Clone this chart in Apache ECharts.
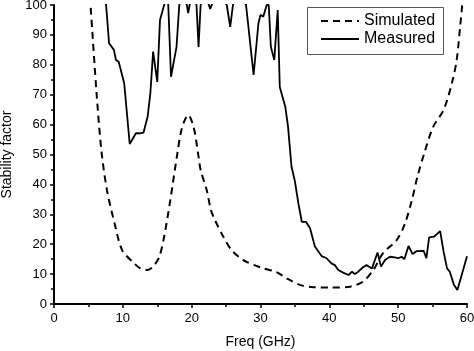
<!DOCTYPE html>
<html>
<head>
<meta charset="utf-8">
<script src="https://cdn.jsdelivr.net/npm/echarts@6/dist/echarts.min.js"></script>
<style>
  html, body { margin: 0; padding: 0; background: #fff; }
  #chart { width: 474px; height: 351px; }
</style>
</head>
<body>
<div id="chart"></div>
<script>
// simulated stability factor (dashed)
var simFreq = [4.8, 5.3, 6.2, 6.9, 7.7, 8.8, 9.9, 11.6, 12.5, 13.6, 14.5, 15.3, 16.0, 16.9, 17.9, 18.6, 19.5, 20.3, 21.0, 21.3,
  22.2, 22.8, 23.4, 24.6, 25.8, 27.5, 29.9, 32.4, 33.8, 35.7, 37.7, 40.1, 43.0, 44.9, 46.4, 47.8, 49.8, 51.0, 52.0,
  52.8, 53.8, 55.1, 56.6, 57.8, 58.5, 59.0, 59.3, 59.5];
var simK = [115, 100, 70, 51, 38, 27, 18, 13.7, 12, 11.4, 12.8, 15.8, 22.5, 34.8, 50, 59, 63.2, 59, 49.3, 44.8,
  38, 31.4, 28, 22.5, 18, 14.7, 12.3, 10.6, 8.6, 6.4, 5.6, 5.5, 5.8, 7.5, 11.4, 17, 21.4, 27, 34.8,
  42.6, 50.5, 59.3, 64.9, 73.8, 81.6, 92.7, 100, 108];

// measured stability factor (solid)
var measFreq = [7.4, 8.0, 8.7, 9.0, 9.4, 10.2, 11.0, 11.9, 12.5, 13.0, 13.6, 14.0, 14.4, 15.0, 15.4, 16.0, 16.3, 16.6,
  17.0, 17.8, 18.2, 18.8, 19.3, 19.5, 19.7, 20.3, 20.7, 21.0, 21.3, 21.9, 22.5, 22.7, 22.9, 23.8, 25.1, 25.6, 26.0,
  27.0, 27.9, 29.0, 29.7, 30.0, 30.4, 30.9, 31.2, 31.5, 32.0, 32.5, 32.8, 33.6, 34.0, 34.5, 35.0, 35.5, 36.0, 36.6,
  37.2, 37.9, 38.9, 39.6, 40.3, 40.8, 41.3, 42.0, 42.8, 43.3, 43.7, 44.2, 44.9, 45.4, 46.2, 47.0, 47.5, 48.1, 48.8,
  49.5, 50.0, 50.5, 50.9, 51.5, 52.1, 52.7, 53.7, 54.1, 54.5, 55.2, 56.1, 56.6, 57.1, 57.5, 58.1, 58.6, 59.5, 60.0];
var measK = [105, 87.2, 85, 81.6, 81, 73.8, 53.5, 57.1, 57.1, 57.3, 62.6, 70.5, 84.4, 74.3, 95, 100, 104, 100,
  76, 86, 100, 104, 100, 97.3, 100, 104, 100, 86, 100, 104, 100, 98.7, 100, 104, 100, 92.7, 100,
  104, 100, 76.6, 93.9, 96.7, 96.1, 100, 100, 86.1, 81.6, 98.3, 72.6, 66, 59.3, 46, 41, 33.7, 27.5, 27.5,
  25.3, 19.2, 16, 15.3, 13.6, 13, 11.4, 10.5, 9.7, 10.8, 10, 10.8, 12.3, 13, 11.9, 17.2, 12.5, 14.7, 15.8,
  15.6, 15.3, 15.8, 15, 19.4, 16.7, 17.7, 17.8, 15.3, 22.3, 22.5, 24.4, 17.5, 11.9, 10.8, 6.4, 4.7, 11.9, 16];

var xTicks = { min: 0, max: 60, step: 10 };
var yTicks = { min: 0, max: 100, step: 10 };

function pairs(xs, ys) {
  return xs.map(function (x, i) { return [x, ys[i]]; });
}

var font = 'Liberation Sans, Arial, sans-serif';
var chart = echarts.init(document.getElementById('chart'), null, { renderer: 'canvas' });

chart.setOption({
  animation: false,
  backgroundColor: '#fff',
  textStyle: { fontFamily: font, color: '#000' },
  grid: { left: 54, right: 7, top: 5, bottom: 47, containLabel: false, outerBoundsMode: 'none' },
  // legend frame
  graphic: [{
    type: 'rect',
    left: 307,
    top: 7,
    shape: { width: 136, height: 47 },
    style: { fill: '#fff', stroke: '#555', lineWidth: 1 },
    z: 5
  }],
  legend: {
    orient: 'vertical',
    left: 320,
    top: 13,
    padding: 0,
    itemGap: 2,
    itemWidth: 38,
    itemHeight: 14,
    z: 10,
    itemStyle: { opacity: 0 },
    textStyle: { fontFamily: font, fontSize: 16, color: '#000' },
    data: ['Simulated', 'Measured']
  },
  xAxis: {
    type: 'value',
    min: xTicks.min,
    max: xTicks.max,
    interval: xTicks.step,
    name: 'Freq (GHz)',
    nameLocation: 'middle',
    nameGap: 31,
    nameTextStyle: { fontFamily: font, fontSize: 14, color: '#000' },
    axisLine: { show: true, lineStyle: { color: '#000', width: 2 } },
    axisTick: { show: true, inside: false, length: 4, lineStyle: { color: '#000', width: 1.5 } },
    minorTick: { show: true, splitNumber: 2, length: 3, lineStyle: { color: '#000', width: 1.5 } },
    axisLabel: { fontFamily: font, fontSize: 13, color: '#000', margin: 8 },
    splitLine: { show: false }
  },
  yAxis: {
    type: 'value',
    min: yTicks.min,
    max: yTicks.max,
    interval: yTicks.step,
    name: 'Stability factor',
    nameLocation: 'middle',
    nameGap: 38,
    nameTextStyle: { fontFamily: font, fontSize: 14, color: '#000' },
    axisLine: { show: true, lineStyle: { color: '#000', width: 2 } },
    axisTick: { show: true, inside: false, length: 4, lineStyle: { color: '#000', width: 1.5 } },
    minorTick: { show: true, splitNumber: 2, length: 3, lineStyle: { color: '#000', width: 1.5 } },
    axisLabel: { fontFamily: font, fontSize: 13, color: '#000', margin: 7 },
    splitLine: { show: false }
  },
  series: [
    {
      name: 'Simulated',
      type: 'line',
      data: pairs(simFreq, simK),
      symbol: 'none',
      smooth: 0.3,
      clip: true,
      lineStyle: { color: '#000', width: 2, type: [7, 5] },
      itemStyle: { color: '#000' }
    },
    {
      name: 'Measured',
      type: 'line',
      data: pairs(measFreq, measK),
      symbol: 'none',
      clip: true,
      lineStyle: { color: '#000', width: 1.8 },
      itemStyle: { color: '#000' }
    }
  ]
});
</script>
</body>
</html>
